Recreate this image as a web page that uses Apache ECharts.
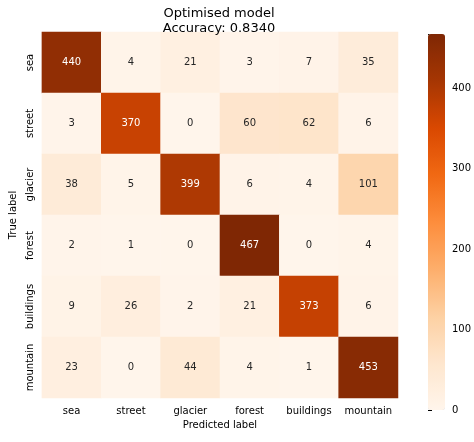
<!DOCTYPE html>
<html><head><meta charset="utf-8">
<script src="https://cdn.jsdelivr.net/npm/echarts@6/dist/echarts.min.js"></script>
<style>html,body{margin:0;padding:0;background:#fff}#c{width:474px;height:442px}</style>
</head><body><div id="c"></div>
<script>
const categories = ['sea','street','glacier','forest','buildings','mountain'];
const matrix = [
  [440,4,21,3,7,35],
  [3,370,0,60,62,6],
  [38,5,399,6,4,101],
  [2,1,0,467,0,4],
  [9,26,2,21,373,6],
  [23,0,44,4,1,453]
];
const cbTicks = [0,100,200,300,400];
const maxV = 467;
const data = [];
matrix.forEach((row,i)=>row.forEach((v,j)=>{
  data.push({value:[j,i,v],label:{color: v>maxV/2?'#fff':'#262626'}});
}));
const chart = echarts.init(document.getElementById('c'));
chart.setOption({
  animation:false,
  title:{text:'Optimised model\nAccuracy: 0.8340',left:214,top:1,textAlign:'center',
    textStyle:{fontSize:13,fontWeight:'normal',color:'#000',lineHeight:15,fontFamily:'DejaVu Sans'}},
  grid:[{left:30,top:32,width:368,height:366},{left:428,top:34,width:17,height:376}],
  xAxis:[{type:'category',data:categories,gridIndex:0,name:'Predicted label',nameLocation:'middle',nameGap:22,
    nameTextStyle:{fontSize:10,color:'#000',fontFamily:'DejaVu Sans'},
    axisLabel:{fontSize:10,color:'#000',fontFamily:'DejaVu Sans',interval:0},axisTick:{alignWithLabel:true,length:4,lineStyle:{color:'#000'}},
    axisLine:{show:false},splitLine:{show:false}},
    {type:'value',gridIndex:1,show:false,min:0,max:1}],
  yAxis:[{type:'category',data:categories,inverse:true,gridIndex:0,name:'True label',nameLocation:'middle',nameGap:18,
    nameTextStyle:{fontSize:10,color:'#000',fontFamily:'DejaVu Sans'},
    axisLabel:{fontSize:10,color:'#000',rotate:90,fontFamily:'DejaVu Sans',margin:6,interval:0},axisTick:{alignWithLabel:true,length:4,lineStyle:{color:'#000'}},
    axisLine:{show:false},splitLine:{show:false}},
    {type:'value',gridIndex:1,min:0,max:maxV,interval:100,position:'right',
    axisLabel:{fontSize:10,color:'#000',fontFamily:'DejaVu Sans',formatter:v=>cbTicks.includes(v)?v:''},
    axisTick:{show:true,length:4,lineStyle:{color:'#000'}},axisLine:{show:false},splitLine:{show:false}}],
  visualMap:{type:'continuous',min:0,max:maxV,seriesIndex:0,calculable:false,orient:'vertical',
    left:428,top:34,itemWidth:17,itemHeight:376,padding:0,text:null,showLabel:false,
    inRange:{color:['#fff5eb','#fee6ce','#fdd0a2','#fdae6b','#fd8d3c','#f16913','#d94801','#a63603','#7f2704']}},
  series:[{type:'heatmap',xAxisIndex:0,yAxisIndex:0,data:data,
    label:{show:true,fontSize:10,fontFamily:'DejaVu Sans',formatter:p=>p.value[2]},
    itemStyle:{borderWidth:0}},
    {type:'scatter',xAxisIndex:1,yAxisIndex:1,data:[],silent:true}]
});
</script></body></html>
